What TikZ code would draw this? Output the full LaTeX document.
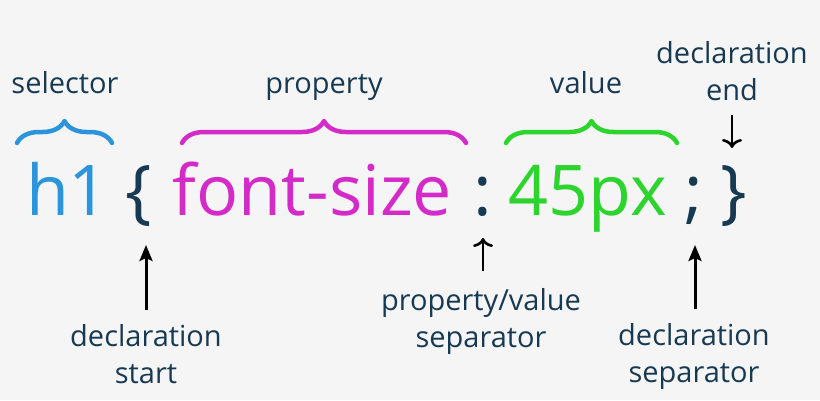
\documentclass[tikz,border=0pt]{standalone}
\usepackage{fontspec}
\setmainfont{Open Sans}
\usetikzlibrary{arrows.meta,decorations.pathreplacing}
\definecolor{bg}{HTML}{F5F5F5}
\definecolor{ink}{HTML}{173A52}
\definecolor{cblue}{HTML}{2B94DB}
\definecolor{cmag}{HTML}{D42BC8}
\definecolor{cgreen}{HTML}{2ED42E}
\tikzset{
  big/.style={anchor=base,inner sep=0pt,font=\fontsize{70}{84}\selectfont},
  lbl/.style={anchor=base,inner sep=0pt,text=ink,align=center,font=\fontsize{29}{37}\selectfont},
  brc/.style={line width=4.5pt,line cap=round,line join=round,decorate,decoration={brace,amplitude=22pt}},
  bigarr/.style={line width=3pt,-{Stealth[length=16pt,width=13pt,inset=3pt]}},
  smallarr/.style={line width=2.6pt,-{To[length=9pt,width=20pt]}}
}
\begin{document}
\begin{tikzpicture}[x=1pt,y=-1pt]
\fill[bg] (0,0) rectangle (820,400);
\useasboundingbox (0,0) rectangle (820,400);
% top labels
\node[lbl] (selector) at (65,93) {selector};
\node[lbl] (property) at (324,93) {property};
\node[lbl] (value) at (586,93) {value};
\node[lbl] (dend) at (732,100) {declaration\\end};
% braces
\draw[brc,cblue] (17,143) -- (112,143);
\draw[brc,cmag] (182,143) -- (466,143);
\draw[brc,cgreen] (506,143) -- (677,143);
% code
\node[big,text=cblue] (h1) at (67.5,215) {h1};
\node[big,text=ink] (lbrace) at (139,215) {\{};
\node[big,text=cmag] (fs) at (312.5,215) {font-size};
\node[big,text=ink] (colon) at (483,215) {:};
\node[big,text=cgreen] (val) at (588,215) {45px};
\node[big,text=ink] (semi) at (694,215) {;};
\node[big,text=ink] (rbrace) at (733.5,215) {\}};
% bottom labels
\node[lbl] (dstart) at (146,383) {declaration\\start};
\node[lbl] (pvsep) at (481,347) {property/value\\separator};
\node[lbl] (dsep) at (694,382) {declaration\\separator};
% arrows
\coordinate (e1) at (732,115);
\coordinate (e2) at (732,148);
\draw[smallarr] (e1) -- (e2);
\coordinate (s1) at (146,310);
\coordinate (s2) at (146,245);
\draw[bigarr] (s1) -- (s2);
\coordinate (c1) at (483,271);
\coordinate (c2) at (483,238);
\draw[smallarr] (c1) -- (c2);
\coordinate (d1) at (695,309);
\coordinate (d2) at (695,245);
\draw[bigarr] (d1) -- (d2);
\end{tikzpicture}
\end{document}
